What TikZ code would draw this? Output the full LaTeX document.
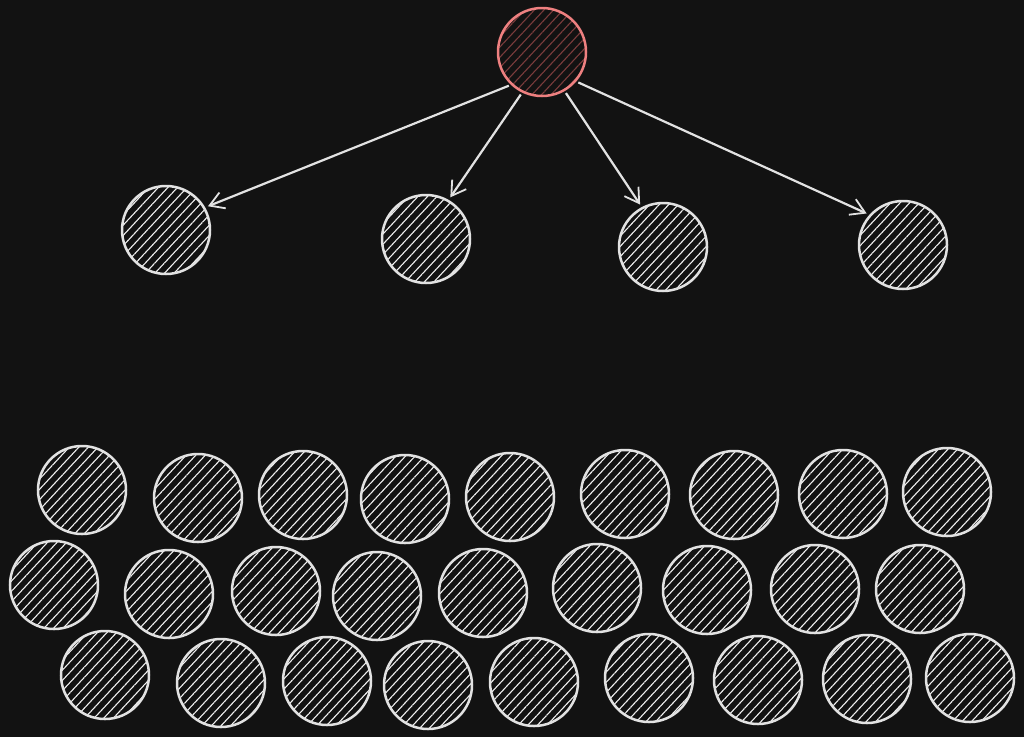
\documentclass[tikz,border=0pt]{standalone}
\usetikzlibrary{patterns.meta,arrows.meta}
\definecolor{bg}{HTML}{121212}
\definecolor{ballline}{HTML}{E2E2E2}
\definecolor{hatch}{HTML}{F0F0F0}
\definecolor{rootline}{HTML}{EE8080}
\definecolor{roothatch}{HTML}{7A3C3C}
\tikzset{
  ball/.style={circle,draw=ballline,line width=2.5pt,minimum size=88pt,inner sep=0pt,
    pattern={Lines[angle=47,distance=7pt,line width=1.1pt]},pattern color=hatch},
  rootball/.style={ball,draw=rootline,pattern color=roothatch},
  link/.style={draw=ballline,line width=2.2pt,shorten <=3pt,shorten >=3pt,
    -{Straight Barb[length=14pt,width=17pt,line width=1.8pt]}}
}
\begin{document}
\begin{tikzpicture}[x=1pt,y=-1pt]
\fill[bg](0,0) rectangle (1024,737);
\useasboundingbox (0,0) rectangle (1024,737);
% root and its children
\node[rootball] (root) at (542,52) {};
\node[ball] (c1) at (166,230) {};
\node[ball] (c2) at (426,239) {};
\node[ball] (c3) at (663,247) {};
\node[ball] (c4) at (903,245) {};
\draw[link](root.-133)--(c1.30);
\draw[link](root.-116)--(c2.60);
\draw[link](root.-60)--(c3.118);
\draw[link](root.-41)--(c4.138);
% first row
\node[ball] (a1) at (82,490) {};
\node[ball] (a2) at (198,498) {};
\node[ball] (a3) at (303,495) {};
\node[ball] (a4) at (405,499) {};
\node[ball] (a5) at (510,497) {};
\node[ball] (a6) at (625,494) {};
\node[ball] (a7) at (734,495) {};
\node[ball] (a8) at (843,494) {};
\node[ball] (a9) at (947,492) {};
% second row
\node[ball] (b1) at (54,585) {};
\node[ball] (b2) at (169,594) {};
\node[ball] (b3) at (276,591) {};
\node[ball] (b4) at (377,596) {};
\node[ball] (b5) at (483,593) {};
\node[ball] (b6) at (597,588) {};
\node[ball] (b7) at (707,590) {};
\node[ball] (b8) at (815,589) {};
\node[ball] (b9) at (920,589) {};
% third row
\node[ball] (d1) at (105,675) {};
\node[ball] (d2) at (221,683) {};
\node[ball] (d3) at (327,681) {};
\node[ball] (d4) at (428,685) {};
\node[ball] (d5) at (534,682) {};
\node[ball] (d6) at (649,678) {};
\node[ball] (d7) at (758,680) {};
\node[ball] (d8) at (867,679) {};
\node[ball] (d9) at (970,678) {};
\end{tikzpicture}
\end{document}
